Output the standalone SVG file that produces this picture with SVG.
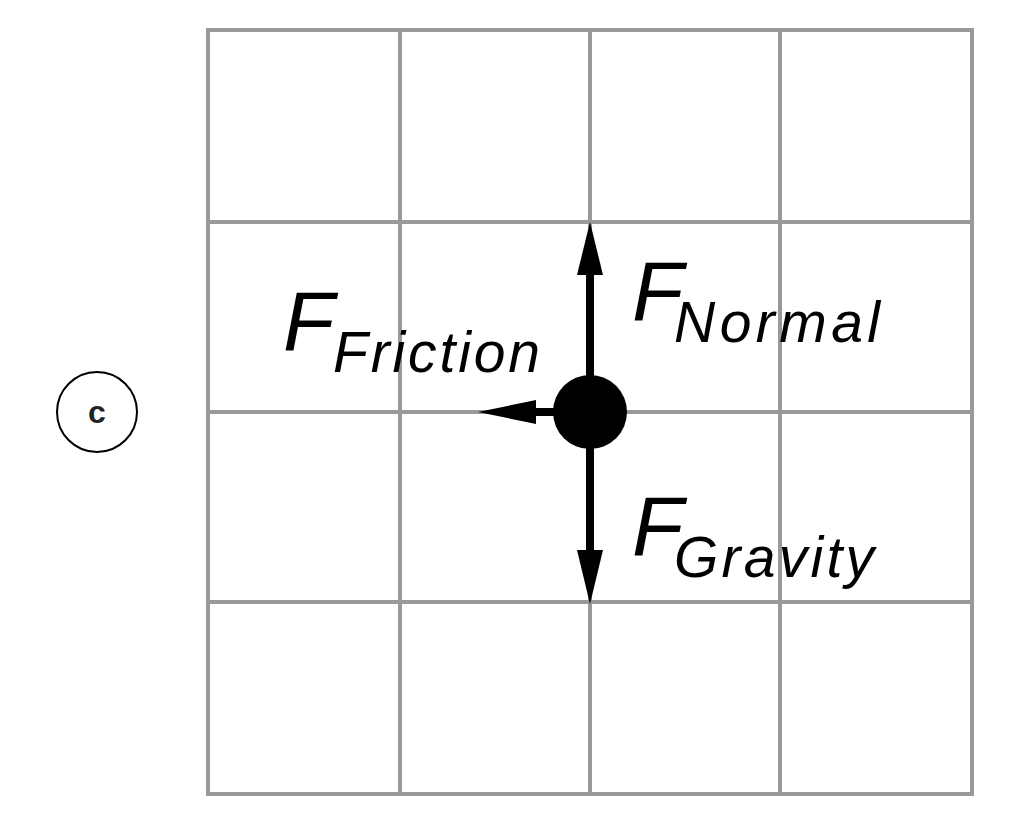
<svg xmlns="http://www.w3.org/2000/svg" width="1030" height="828" viewBox="0 0 1030 828">
<style>
.g{stroke:#999;stroke-width:4;fill:none}
.a{stroke:#000;stroke-width:8;fill:none}
.t{font-family:"Liberation Sans",Arial,sans-serif;font-style:italic;fill:#000}
</style>
<rect width="1030" height="828" fill="#fff"/>
<g id="grid">
<rect class="g" x="208" y="30" width="764" height="764"/>
<path class="g" d="M400 30V794M590 30V794M780 30V794M208 222H972M208 412H972M208 602H972"/>
</g>
<g id="connectors">
<path class="a" d="M590 412V265M590 412V560M590 412H530"/>
<polygon points="590,222 577,275 603,275"/>
<polygon points="590,604 577,550 603,550"/>
<polygon points="478,412 536,400 536,424"/>
</g>
<g id="mass"><circle cx="590" cy="412" r="37" fill="#000"/></g>
<g id="label-friction"><text class="t" x="283" y="350" font-size="84">F</text><text class="t" x="333" y="372" font-size="57" textLength="207">Friction</text></g>
<g id="label-normal"><text class="t" x="632" y="320" font-size="84">F</text><text class="t" x="674" y="342" font-size="57" textLength="206">Normal</text></g>
<g id="label-gravity"><text class="t" x="632" y="555" font-size="84">F</text><text class="t" x="674" y="577" font-size="57" textLength="200">Gravity</text></g>
<g id="badge"><circle cx="97" cy="412" r="40" fill="#fff" stroke="#000" stroke-width="2"/><text x="97" y="423" font-family="Liberation Sans,Arial,sans-serif" font-weight="bold" font-size="32" text-anchor="middle" fill="#222">c</text></g>
</svg>
